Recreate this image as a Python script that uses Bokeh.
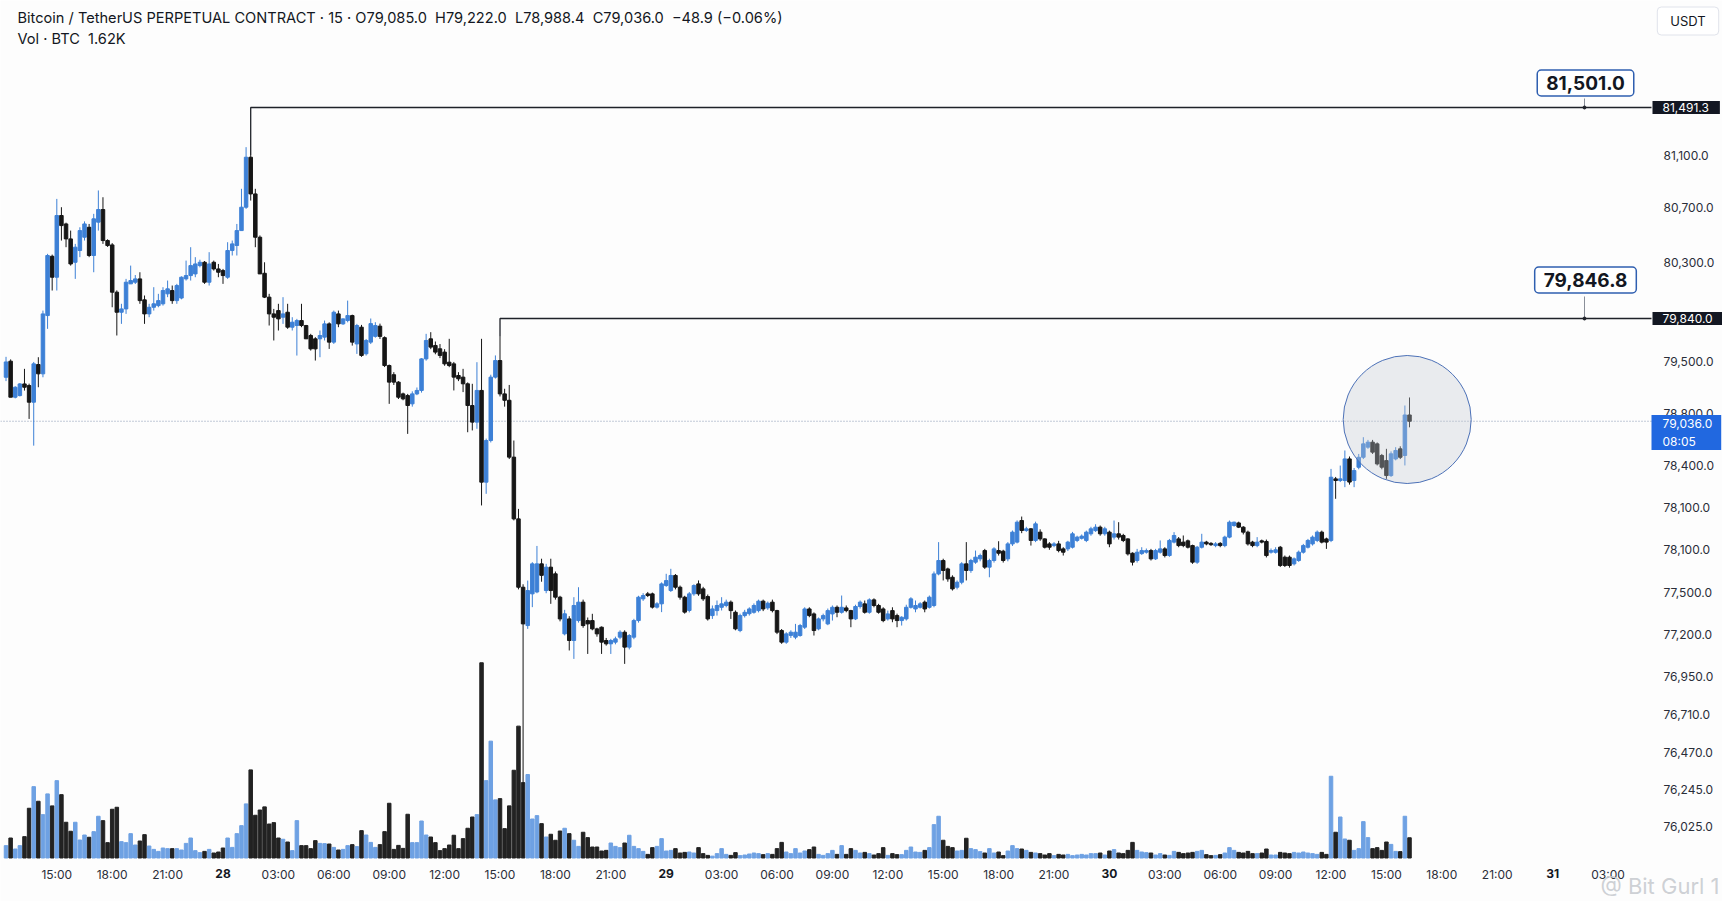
from bokeh.plotting import figure
from bokeh.models import Range1d, FixedTicker, Label
from bokeh.embed import file_html
from bokeh.resources import INLINE

# ---------------- data (15-minute candles, 27th 12:15 -> 30th 16:15) ----------------
START_HOUR = 12.25   # hours counted from the 27th 00:00
STEP = 0.25

opens = [79380,79506,79224,79237,79328,79315,79185,79480,79407,79863,
80327,80163,80646,80580,80463,80280,80372,80476,80554,80333,
80594,80693,80450,80416,80046,79889,79915,80111,80124,80150,
79986,79876,79928,79941,79955,80033,80059,79980,80000,80150,
80176,80189,80254,80280,80124,80280,80228,80215,80163,80372,
80411,80528,80711,81102,80815,80476,80194,80007,79876,79902,
79850,79889,79772,79785,79824,79785,79707,79681,79681,79694,
79798,79655,79876,79798,79824,79863,79641,79772,79564,79655,
79700,79780,79690,79472,79400,79342,79250,79237,79172,79250,
79277,79524,79681,79629,79603,79577,79498,79485,79394,79381,
79329,79159,79029,79277,78559,78885,79381,79511,79250,79200,
78755,78272,77737,77437,77685,77700,77920,77711,77894,77842,
77659,77372,77489,77320,77476,77620,77476,77476,77411,77424,
77320,77294,77307,77346,77385,77268,77346,77476,77646,77685,
77685,77581,77607,77750,77711,77829,77737,77659,77555,77685,
77763,77724,77664,77515,77554,77580,77594,77620,77541,77398,
77515,77530,77541,77554,77628,77575,77620,77554,77398,77307,
77360,77346,77359,77424,77567,77528,77411,77489,77450,77528,
77580,77541,77575,77554,77489,77586,77607,77541,77638,77594,
77567,77489,77554,77515,77476,77489,77580,77567,77580,77620,
77580,77594,77841,77946,77880,77815,77737,77776,77920,77868,
77933,77959,78024,77894,77946,78024,78019,77959,78076,78090,
78259,78181,78194,78103,78168,78115,78076,78063,78076,78037,
78037,78050,78103,78120,78103,78155,78180,78207,78155,78168,
78129,78155,78142,78115,78003,77946,78000,78011,78024,77959,
78011,78037,77985,78090,78115,78090,78100,78063,77933,78050,
78090,78080,78063,78080,78063,78129,78220,78240,78207,78168,
78090,78063,78100,78095,78011,78010,78050,77972,77972,77920,
77946,78011,78050,78076,78103,78168,78115,78103,78585,78572,
78572,78741,78572,78676,78754,78833,78872,78859,78768,78728,
78611,78741,78820,78768,79085]

highs = [79540,79520,79310,79335,79446,79330,79500,79537,79902,80346,
80340,80776,80711,80590,80528,80424,80554,80600,80580,80659,
80842,80789,80460,80430,80060,79955,80150,80254,80180,80202,
80020,79955,80085,80033,80085,80137,80098,80111,80170,80293,
80398,80320,80300,80290,80359,80293,80267,80228,80437,80450,
80580,80855,81181,81120,80855,80490,80280,80033,79915,79955,
80007,79955,79850,79837,79955,79790,79720,79694,79746,79824,
79810,79902,79902,79840,79980,79870,79798,79790,79680,79840,
79811,79800,79700,79480,79420,79350,79260,79250,79270,79300,
79530,79720,79733,79660,79640,79600,79681,79500,79420,79446,
79340,79329,79498,79681,78900,79400,79551,79700,79290,79320,
78885,78350,77760,77789,77933,78060,77960,77920,77960,77860,
77670,77560,77510,77659,77737,77640,77500,77529,77420,77430,
77340,77333,77350,77400,77400,77370,77490,77670,77690,77700,
77695,77620,77775,77842,77881,77840,77750,77670,77700,77760,
77790,77740,77680,77594,77633,77659,77640,77633,77555,77530,
77560,77580,77610,77640,77640,77625,77640,77560,77410,77385,
77400,77450,77450,77580,77580,77540,77500,77530,77570,77594,
77594,77672,77594,77560,77600,77633,77633,77650,77650,77607,
77580,77554,77580,77530,77510,77600,77659,77633,77620,77633,
77672,77860,78090,77960,77890,77830,77790,77933,78090,77959,
78024,78000,78037,77960,78050,78097,78030,78090,78181,78260,
78290,78210,78200,78250,78190,78120,78090,78090,78100,78050,
78100,78170,78140,78150,78180,78210,78230,78220,78210,78180,
78259,78246,78155,78120,78010,78037,78050,78040,78037,78037,
78103,78050,78115,78168,78130,78142,78110,78070,78060,78155,
78100,78090,78090,78090,78140,78259,78250,78250,78215,78180,
78100,78129,78110,78110,78040,78050,78060,77985,77985,77970,
78024,78076,78115,78142,78181,78180,78125,78663,78600,78689,
78807,78760,78670,78780,78911,78890,78890,78870,78780,78820,
78800,78833,78840,79159,79222]

lows = [79350,79224,79215,79230,79276,79054,78845,79302,79380,79759,
80059,80059,80450,80398,80254,80150,80320,80450,80320,80202,
80528,80424,80400,79928,79707,79798,79876,80111,80110,79955,
79798,79850,79902,79928,79941,80007,79955,79955,79990,80137,
80137,80163,80240,80111,80098,80215,80163,80111,80150,80333,
80333,80528,80698,80763,80398,80189,80000,79785,79668,79746,
79798,79759,79746,79550,79772,79681,79589,79511,79537,79668,
79602,79641,79772,79790,79810,79628,79563,79540,79550,79640,
79690,79680,79460,79172,79320,79210,79200,78937,79150,79240,
79260,79510,79600,79560,79530,79470,79459,79277,79350,79264,
78950,78964,78977,78377,78468,78870,79370,79230,79150,78740,
78260,77720,75630,77411,77581,77690,77780,77690,77607,77640,
77470,77360,77242,77176,77460,77420,77215,77400,77350,77215,
77280,77215,77290,77330,77137,77250,77330,77460,77630,77660,
77570,77570,77542,77740,77700,77720,77640,77530,77540,77670,
77670,77630,77476,77489,77515,77555,77580,77489,77400,77385,
77500,77515,77530,77540,77550,77560,77540,77370,77294,77294,
77340,77330,77350,77410,77502,77359,77400,77470,77440,77476,
77502,77530,77541,77424,77480,77570,77530,77530,77580,77530,
77463,77476,77463,77424,77437,77476,77570,77541,77570,77541,
77570,77580,77830,77790,77780,77711,77720,77760,77790,77850,
77920,77940,77880,77815,77930,77985,77930,77940,78060,78080,
78160,78170,78063,78090,78100,78040,78030,78050,78010,77985,
78020,78040,78090,78110,78090,78140,78170,78140,78140,78050,
78110,78110,78090,77985,77907,77930,77990,78000,77946,77950,
78000,77970,77975,78080,78050,78050,78040,77920,77920,78040,
78065,78060,78050,78050,78050,78120,78210,78200,78150,78063,
78050,78050,78080,77970,78000,78000,77895,77895,77890,77907,
77935,78000,78040,78063,78090,78080,78037,78090,78429,78560,
78520,78540,78520,78660,78740,78820,78780,78690,78660,78585,
78600,78730,78740,78690,78988.4]

closes = [79500,79224,79302,79328,79302,79185,79485,79407,79876,80333,
80163,80646,80567,80463,80267,80398,80528,80580,80333,80620,
80693,80450,80411,80046,79889,79915,80124,80137,80150,79980,
79876,79928,79955,79980,80059,80072,79980,80098,80163,80176,
80254,80267,80280,80124,80267,80228,80202,80176,80372,80424,
80528,80711,81102,80815,80476,80189,80007,79876,79850,79837,
79876,79772,79811,79824,79785,79681,79602,79602,79707,79798,
79655,79889,79798,79837,79863,79655,79785,79551,79668,79800,
79785,79700,79472,79342,79342,79224,79211,79159,79250,79277,
79524,79668,79616,79577,79551,79485,79472,79381,79368,79329,
79159,79029,79277,78559,78885,79381,79511,79250,79200,78755,
78272,77737,77450,77711,77920,77920,77830,77894,77711,77659,
77489,77529,77320,77594,77620,77437,77450,77411,77372,77307,
77294,77320,77333,77385,77268,77359,77476,77659,77672,77672,
77581,77607,77763,77789,77829,77737,77659,77542,77685,77750,
77685,77646,77489,77567,77594,77607,77620,77554,77411,77515,
77541,77567,77594,77628,77567,77612,77554,77385,77307,77372,
77385,77385,77437,77567,77515,77398,77489,77515,77554,77580,
77541,77580,77554,77489,77586,77620,77541,77638,77594,77541,
77476,77528,77489,77476,77502,77580,77646,77594,77607,77567,
77659,77841,77946,77868,77802,77724,77776,77920,77868,77946,
77972,77985,77894,77946,78037,78003,77946,78076,78168,78246,
78181,78194,78103,78233,78115,78050,78050,78076,78024,78011,
78090,78155,78129,78137,78168,78194,78207,78155,78194,78076,
78155,78129,78103,77998,77933,78011,78024,78024,77959,78024,
78037,77985,78103,78142,78063,78063,78050,77933,78050,78090,
78076,78070,78076,78063,78129,78246,78246,78207,78168,78076,
78063,78090,78090,77985,78024,78030,77907,77907,77907,77959,
78011,78063,78103,78129,78168,78090,78090,78598,78572,78585,
78741,78560,78650,78754,78859,78872,78794,78702,78676,78611,
78781,78807,78754,79085,79036]

volumes_k = [0.99,1.60,0.72,0.99,1.71,3.98,5.71,4.54,3.47,5.13,
4.17,6.19,5.07,2.86,2.14,2.86,1.44,1.84,1.66,2.11,
3.34,2.99,1.23,3.90,4.06,1.31,1.23,1.95,1.04,1.36,
1.87,0.96,0.69,0.53,0.80,0.75,0.75,0.75,0.64,1.17,
1.60,0.59,0.43,0.53,0.69,0.40,0.48,0.80,1.60,0.85,
1.95,2.59,4.33,7.05,3.42,3.84,4.09,2.72,2.83,1.60,
1.50,1.28,0.59,2.99,0.99,0.99,0.75,1.39,1.17,1.15,
1.12,0.85,0.64,0.69,0.99,1.07,0.91,2.19,1.84,1.25,
0.85,1.07,2.11,4.38,0.69,1.01,0.77,3.50,1.23,1.23,
2.96,1.84,1.68,1.23,0.59,0.75,1.04,1.82,0.75,1.55,
2.38,3.28,3.47,15.62,6.19,9.35,4.65,4.75,2.35,4.17,
7.02,10.55,6.03,6.68,3.12,3.39,2.75,1.68,1.90,1.42,
2.16,2.38,1.95,1.42,0.93,2.06,1.63,0.88,0.88,0.56,
0.61,1.20,0.93,0.83,1.20,1.82,0.93,0.75,0.53,0.29,
0.83,0.93,1.55,0.56,0.61,0.75,0.40,0.45,0.48,0.40,
0.83,0.35,0.21,0.15,0.35,0.75,0.29,0.21,0.43,0.19,
0.24,0.32,0.40,0.35,0.27,0.35,0.29,0.75,1.25,0.48,
0.35,0.75,0.40,0.56,0.67,0.88,0.29,0.21,0.35,0.61,
0.29,0.99,0.29,0.75,0.61,0.40,0.45,0.35,0.24,0.35,
0.83,0.21,0.35,0.27,0.27,0.61,0.88,0.48,0.45,0.61,
0.83,2.67,3.34,1.42,0.93,0.83,0.56,0.61,1.58,0.75,
0.67,0.51,0.40,0.75,0.40,0.48,0.19,0.56,0.99,0.75,
0.72,0.61,0.45,0.40,0.35,0.24,0.35,0.19,0.29,0.24,
0.29,0.19,0.24,0.29,0.24,0.35,0.35,0.40,0.24,0.56,
0.67,0.40,0.35,0.61,1.25,0.61,0.48,0.43,0.40,0.24,
0.35,0.24,0.21,0.53,0.45,0.35,0.40,0.45,0.53,0.61,
0.27,0.19,0.21,0.27,0.40,0.83,0.61,0.45,0.40,0.53,
0.35,0.35,0.40,0.72,0.24,0.24,0.45,0.40,0.35,0.45,
0.40,0.48,0.40,0.35,0.29,0.45,0.29,6.54,2.06,3.28,
1.52,1.42,0.61,0.75,2.91,1.63,0.75,0.83,0.61,1.28,
1.09,0.53,0.51,3.34,1.62]

# x-axis ticks (hours from the 27th 00:00) and labels
x_ticks = [15, 18, 21, 24, 27, 30, 33, 36, 39, 42, 45, 48, 51, 54, 57, 60,
           63, 66, 69, 72, 75, 78, 81, 84, 87, 90, 93, 96, 99]
x_labels = ["15:00", "18:00", "21:00", "28", "03:00", "06:00", "09:00", "12:00",
            "15:00", "18:00", "21:00", "29", "03:00", "06:00", "09:00", "12:00",
            "15:00", "18:00", "21:00", "30", "03:00", "06:00", "09:00", "12:00",
            "15:00", "18:00", "21:00", "31", "03:00"]
day_labels = {"28", "29", "30", "31"}

# price-axis ticks (positions on the drawn scale) and the labels shown
y_ticks = [81116, 80709, 80278, 79503, 79097, 78690, 78361, 78032, 77696,
           77367, 77038, 76741, 76444, 76154, 75864]
y_labels = ["81,100.0", "80,700.0", "80,300.0", "79,500.0", "78,800.0",
            "78,400.0", "78,100.0", "78,100.0", "77,500.0", "77,200.0",
            "76,950.0", "76,710.0", "76,470.0", "76,245.0", "76,025.0"]

# horizontal levels drawn on the chart
level_values = [81491.3, 79840.0]
level_labels = ["81,491.3", "79,840.0"]
level_anchor = [53, 107]            # candle index where each level starts
callout_texts = ["81,501.0", "79,846.8"]
last_price_text = "79,036.0\n08:05"
NB = "\u00a0"
header_text = ("Bitcoin / TetherUS PERPETUAL CONTRACT \u00b7 15 \u00b7 O79,085.0" + NB + " H79,222.0" + NB +
               " L78,988.4" + NB + " C79,036.0" + NB + " \u221248.9 (\u22120.06%)")
vol_text = "Vol \u00b7 BTC" + NB + " 1.62K"

# ---------------- layout helpers (picture pixel -> data units) ----------------
W, H = 1722, 901

def hx(X):
    return 15 + (X - 56.3) / 18.467

def py(Y):
    return 81491.3 - (Y - 107) * 7.826

VOL_PER_PX = 0.08
VOL_BASE_Y = 857.5

FONT = "Inter"
BG = "#fdfdfd"
BLUE = "#3d80d6"
BLACK = "#161616"
VBLUE = "#6ea1e3"
VBLACK = "#222222"
TXT = "#131722"

times = [START_HOUR + STEP * i for i in range(len(opens))]
up = [c >= o for o, c in zip(opens, closes)]
ccol = [BLUE if u else BLACK for u in up]
vcol = [VBLUE if u else VBLACK for u in up]
btop = [max(o, c) for o, c in zip(opens, closes)]
bbot = [min(o, c) for o, c in zip(opens, closes)]

p = figure(width=W, height=H,
           x_range=Range1d(hx(0), hx(W)), y_range=Range1d(py(H), py(0)),
           y_axis_location="right", output_backend="svg", toolbar_location=None,
           min_border_left=0, min_border_right=0, min_border_top=0, min_border_bottom=0,
           background_fill_color=BG, border_fill_color=BG, outline_line_color=None)
p.grid.visible = False
p.extra_y_ranges = {"vol": Range1d((VOL_BASE_Y - H) * VOL_PER_PX, VOL_BASE_Y * VOL_PER_PX)}

# x axis (labels drawn back over the bottom strip of the chart)
xa = p.xaxis[0]
xa.ticker = FixedTicker(ticks=x_ticks)
xa.major_label_overrides = {t: ("" if l in day_labels else l) for t, l in zip(x_ticks, x_labels)}
xa.axis_line_color = None
xa.major_tick_line_color = None
xa.minor_tick_line_color = None
xa.major_tick_out = 0
xa.major_tick_in = 0
xa.major_label_standoff = -35
xa.major_label_text_font = FONT
xa.major_label_text_font_size = "12px"
xa.major_label_text_color = "#2a2e39"

# y axis (labels drawn back over the right strip of the chart)
ya = p.yaxis[0]
ya.ticker = FixedTicker(ticks=y_ticks)
ya.major_label_overrides = {t: l for t, l in zip(y_ticks, y_labels)}
ya.axis_line_color = None
ya.major_tick_line_color = None
ya.minor_tick_line_color = None
ya.major_tick_out = 0
ya.major_tick_in = 0
ya.major_label_standoff = -59
ya.major_label_text_font = FONT
ya.major_label_text_font_size = "12px"
ya.major_label_text_color = "#2a2e39"

# volume
p.vbar(x=times, top=volumes_k, bottom=0, width=0.19, color=vcol, y_range_name="vol")

# current price dotted line
p.line(x=[hx(0), hx(1651)], y=[closes[-1], closes[-1]], line_color="#8696b0",
       line_width=1, line_dash="1 2")

# candles
p.segment(x0=times, y0=lows, x1=times, y1=highs, color=ccol, line_width=1)
p.vbar(x=times, top=btop, bottom=bbot, width=0.19, fill_color=ccol, line_color=ccol, line_width=1)

# levels
for v, a in zip(level_values, level_anchor):
    ta = times[a]
    p.line(x=[ta, ta, hx(1651)], y=[highs[a], v, v], line_color="#1f2229", line_width=1.3)

# callouts
callout_centres = [82.5, 279.5]
callout_bottoms = [98, 296]
for txt, v, cy, cb in zip(callout_texts, level_values, callout_centres, callout_bottoms):
    p.segment(x0=[hx(1584)], y0=[py(cb)], x1=[hx(1584)], y1=[v], line_color="#8a8f99", line_width=1)
    p.scatter(x=[hx(1584)], y=[v], size=3, color="#1f2229")
    p.add_layout(Label(x=hx(1585), y=py(cy), text=txt, text_align="center", text_baseline="middle",
                       text_font=FONT, text_font_size="19px", text_font_style="bold",
                       text_color=TXT, background_fill_color="white",
                       border_line_color="#2f5fb0", border_line_width=1.5, border_radius=4,
                       padding=dict(left=9, right=9, top=6, bottom=6), level="overlay"))

# circle highlight
p.circle(x=[hx(1406.7)], y=[py(419)], radius=64, radius_units="screen",
         fill_color="#c4c8d0", fill_alpha=0.35, line_color="#4d72b8", line_width=1)

# right-side price boxes
for txt, v in zip(level_labels, level_values):
    p.add_layout(Label(x=hx(1652), y=v, text=txt, text_align="left", text_baseline="middle",
                       text_font=FONT, text_font_size="12px", text_color="white",
                       background_fill_color="#131722",
                       padding=dict(left=10, right=11, top=2, bottom=2), level="overlay"))
p.add_layout(Label(x=hx(1651), y=py(432), text=last_price_text, text_align="left",
                   text_baseline="middle", text_font=FONT, text_font_size="12px",
                   text_color="white", background_fill_color="#2168e0",
                   padding=dict(left=11, right=9, top=1, bottom=1), level="overlay"))

# header
p.add_layout(Label(x=hx(17), y=py(17.6), text=header_text, text_baseline="middle",
                   text_font=FONT, text_font_size="14.6px", text_color=TXT, level="overlay"))
p.add_layout(Label(x=hx(17), y=py(38.6), text=vol_text, text_baseline="middle",
                   text_font=FONT, text_font_size="14.6px", text_color=TXT, level="overlay"))
p.add_layout(Label(x=hx(1687.5), y=py(20.5), text="USDT", text_align="center",
                   text_baseline="middle", text_font=FONT, text_font_size="13px",
                   text_color=TXT, background_fill_color="white",
                   border_line_color="#e0e3eb", border_line_width=1, border_radius=4,
                   padding=dict(left=13, right=13, top=6, bottom=6), level="overlay"))

# bold day labels on the time axis
for t, l in zip(x_ticks, x_labels):
    if l in day_labels:
        p.add_layout(Label(x=t, y=py(873), text=l, text_align="center", text_baseline="middle",
                           text_font=FONT, text_font_size="12px", text_font_style="bold",
                           text_color=TXT, level="overlay"))

# watermark
p.add_layout(Label(x=hx(1719), y=py(885), text="@ Bit Gurl 1", text_align="right",
                   text_baseline="middle", text_font=FONT, text_font_size="22px",
                   text_color="#c8cbd0", text_alpha=0.9, level="overlay"))

open("out.html", "w").write(file_html(p, INLINE))
